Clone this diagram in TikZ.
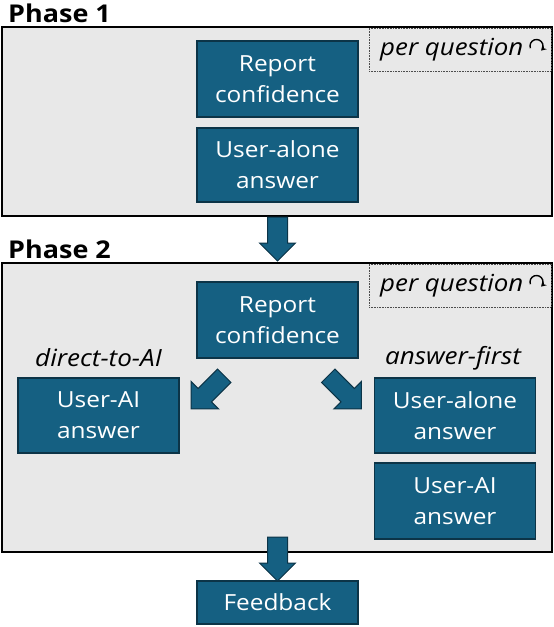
\documentclass[tikz,border=0pt]{standalone}
\usepackage{fontspec}
\setmainfont{Open Sans}[FakeStretch=1.1]
\usetikzlibrary{shapes.arrows,arrows.meta}

\definecolor{boxblue}{HTML}{156082}
\definecolor{boxedge}{HTML}{0C3447}
\definecolor{panelgray}{HTML}{E8E8E8}

\tikzset{
  panel/.style={draw=black, fill=panelgray, line width=1.4pt, inner sep=0pt},
  loopbox/.style={draw=black!70, densely dotted, line width=0.6pt, inner sep=0pt},
  stepbox/.style={draw=boxedge, fill=boxblue, text=white, line width=1.3pt,
    minimum width=161pt, minimum height=75pt, align=center, inner sep=0pt,
    font=\fontsize{22.2}{31}\selectfont},
  blockarrow/.style={single arrow, draw=boxedge, fill=boxblue, line width=1pt,
    inner xsep=0pt, inner ysep=9.5pt, minimum height=44pt,
    single arrow head extend=8pt, single arrow head indent=0pt},
  phaselabel/.style={anchor=west, inner sep=0pt, font=\fontsize{24.5}{28}\selectfont\bfseries},
  condlabel/.style={inner sep=0pt, font=\fontsize{23.7}{28}\selectfont\itshape},
  looplabel/.style={anchor=west, inner sep=0pt, font=\fontsize{23.5}{28}\selectfont\itshape},
  loopicon/.style={line width=1.4pt, -{Stealth[length=5pt,width=6pt]}},
}

\begin{document}
\begin{tikzpicture}[x=1pt, y=-1pt]
\useasboundingbox (0,0) rectangle (554,627);

% Phase 1
\node[phaselabel] (p1lab) at (8,13) {Phase 1};
\node[panel, minimum width=550pt, minimum height=189pt] (panel1) at (277,121.5) {};
\node[loopbox, minimum width=182pt, minimum height=43pt] (loop1) at (460,49.5) {};
\node[looplabel] (loop1lab) at (380,50) {per question};
\coordinate (icon1) at (536.5,46);
\draw[loopicon] ([shift={(160:6.5)}]icon1) arc (160:405:6.5);
\node[stepbox, minimum height=76pt] (conf1) at (277.5,79) {Report\\confidence};
\node[stepbox, minimum height=74pt] (alone1) at (277.5,165) {User-alone\\answer};

% Phase 1 to Phase 2
\node[blockarrow, rotate=-90] (arrow12) at (277.5,234) {};

% Phase 2
\node[phaselabel] (p2lab) at (8,249) {Phase 2};
\node[panel, minimum width=550pt, minimum height=289pt] (panel2) at (277,407.5) {};
\node[loopbox, minimum width=182pt, minimum height=43pt] (loop2) at (460,285.5) {};
\node[looplabel] (loop2lab) at (380,286) {per question};
\coordinate (icon2) at (536.5,282);
\draw[loopicon] ([shift={(160:6.5)}]icon2) arc (160:405:6.5);
\node[stepbox, minimum height=76pt] (conf2) at (277.5,320) {Report\\confidence};

% two conditions
\node[condlabel] (directlab) at (98.5,358) {direct-to-AI};
\node[condlabel] (firstlab) at (453,358) {answer-first};
\node[blockarrow, minimum height=47pt, inner ysep=9pt, single arrow head extend=10pt, rotate=-135] (arrowdir) at (211,389) {};
\node[blockarrow, minimum height=47pt, inner ysep=9pt, single arrow head extend=10pt, rotate=-45] (arrowfirst) at (341.5,389) {};
\node[stepbox] (aidir) at (98.5,415.5) {User-AI\\answer};
\node[stepbox] (alone2) at (455,415.5) {User-alone\\answer};
\node[stepbox, minimum height=76pt] (aifirst) at (455,501) {User-AI\\answer};

% Feedback
\node[blockarrow] (arrowfb) [rotate=-90] at (277.5,554) {};
\node[stepbox, minimum height=43pt] (feedback) at (277.5,602.5) {Feedback};
\end{tikzpicture}
\end{document}
